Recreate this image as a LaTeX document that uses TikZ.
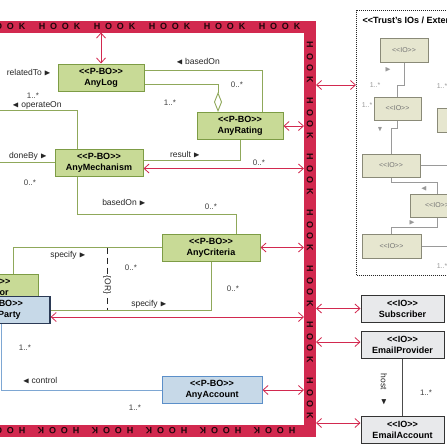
\documentclass[tikz,border=0pt]{standalone}
\usepackage{amssymb}
\usepackage{fontspec}
\setmainfont{Liberation Sans}
\usepackage{tikz}
\usetikzlibrary{arrows.meta}

\definecolor{hookred}{HTML}{D2294F}
\definecolor{pbofill}{HTML}{C8DA96}
\definecolor{pboline}{HTML}{7D9C45}
\definecolor{assocline}{HTML}{8FA85A}
\definecolor{partyfill}{HTML}{C7D9E8}
\definecolor{partyline}{HTML}{2B3A55}
\definecolor{accline}{HTML}{5B8FC9}
\definecolor{ctrlline}{HTML}{7EA7D3}
\definecolor{iofill}{HTML}{E6E6CF}
\definecolor{ioline}{HTML}{8A8A78}
\definecolor{iogray}{HTML}{9A9A9A}
\definecolor{extfill}{HTML}{E8E9EB}

\newcommand{\stereo}[1]{\hbox{<}\hbox{<}#1\hbox{>}\hbox{>}}
\newcommand{\rtri}{$\blacktriangleright$}
\newcommand{\ltri}{$\blacktriangleleft$}
\newcommand{\dtri}{$\blacktriangledown$}

\begin{document}
\begin{tikzpicture}[x=1pt, y=-1pt,
    pbo/.style={draw=pboline, fill=pbofill, line width=1pt, align=center,
      font=\fontsize{9}{11}\selectfont\bfseries, minimum height=27pt, inner sep=0pt},
    party/.style={pbo, draw=partyline, fill=partyfill, line width=1.3pt},
    account/.style={pbo, draw=accline, fill=partyfill},
    ioin/.style={draw=ioline, fill=iofill, line width=1pt, text=black!55,
      font=\fontsize{7}{8}\selectfont, minimum height=24pt, inner sep=0pt},
    ioext/.style={draw=black!80, fill=extfill, line width=1pt, align=center,
      font=\fontsize{9}{11}\selectfont\bfseries, minimum width=83pt,
      minimum height=27pt, inner sep=0pt},
    assoc/.style={draw=assocline, line width=0.9pt},
    ctrl/.style={draw=ctrlline, line width=0.9pt},
    ioconn/.style={draw=iogray, line width=0.9pt},
    hookarr/.style={draw=hookred, line width=0.8pt, <->,
      >={Straight Barb[length=5pt, width=9pt]}},
    lbl/.style={font=\fontsize{8.5}{9}\selectfont, text=black!85, inner sep=0pt},
    mult/.style={font=\fontsize{8}{9}\selectfont, text=black!75, inner sep=0pt},
    iolbl/.style={font=\fontsize{7}{8}\selectfont, text=black!40, inner sep=0pt},
    hookltr/.style={font=\fontsize{9}{9}\selectfont\bfseries,
      text=black!85!hookred, inner sep=0pt},
    dotbox/.style={draw=black!85, line width=1.3pt, dash pattern=on 1pt off 1pt},
    orline/.style={draw=black!85, line width=0.9pt, dash pattern=on 6pt off 4pt}]

    \clip (0, 0) rectangle (447, 447);

    % hook frame
    \draw [line width=12pt, hookred] (-20, 26.5) -- (310, 26.5)
      -- (310, 431) -- (-20, 431);
    \coordinate (bandtop) at (0, 32.5);
    \coordinate (bandin) at (304, 0);
    \coordinate (bandout) at (316, 0);

    % P-BO classes
    \node[pbo, minimum width=86pt](anylog) at (101, 77.5){\stereo{P-BO}\\AnyLog};
    \node[pbo, minimum width=86pt](anyrating) at (240, 126){\stereo{P-BO}\\AnyRating};
    \node[pbo, minimum width=88pt](anymech) at (99, 162.5){\stereo{P-BO}\\AnyMechanism};
    \node[pbo, minimum width=98pt](anycrit) at (211, 247.5){\stereo{P-BO}\\AnyCriteria};
    \node[pbo, minimum width=99pt](actor) at (-11.5, 287.5){\stereo{P-BO}\\AnyActor};
    \node[party, minimum width=98pt](anyparty) at (1, 310){\stereo{P-BO}\\AnyParty};
    \node[account, minimum width=100pt](anyaccount) at (212, 390){\stereo{P-BO}\\AnyAccount};

    % AnyLog
    \node[lbl, anchor=east](relto) at (51, 73){relatedTo \rtri};
    \draw [assoc] ([yshift=7.5pt]anylog.east) -| ([xshift=22pt]anyrating.north);
    \node[lbl](basedon1) at (198, 62){\ltri\ basedOn};
    \node[mult](m-rating) at (237, 85){0..*};
    \draw [assoc, -{Diamond[open, length=20pt, width=8pt]}]
      ([yshift=-6.5pt]anylog.east) -| ([xshift=-22pt]anyrating.north);
    \node[mult](m-log) at (170, 103){1..*};

    % AnyMechanism
    \coordinate (opfree) at (-5, 110);
    \draw [assoc] ([xshift=-22pt]anymech.north) |- (opfree);
    \node[mult](m-op) at (33, 95.5){1..*};
    \node[lbl](operateon) at (37, 105){\ltri\ operateOn};
    \coordinate (donefree) at (-5, 162.5);
    \draw [assoc] (donefree) -- (anymech.west);
    \node[lbl](doneby) at (28, 156){doneBy \rtri};
    \node[mult](m-done) at (30, 183){0..*};
    \draw [assoc] (anyrating.south) |- ([yshift=2pt]anymech.east);
    \node[lbl](result) at (185, 154.5){result \rtri};
    \draw [assoc] ([xshift=-22pt]anymech.south) -- ++(0, 38)
      -| ([xshift=25pt]anycrit.north);
    \node[lbl](basedon2) at (124, 202.5){basedOn \rtri};
    \node[mult](m-crit) at (211, 207){0..*};

    % AnyCriteria
    \draw [assoc] (anycrit.west) -| ([xshift=24.5pt]actor.north);
    \node[lbl](specify1) at (68, 255){specify \rtri};
    \node[mult](m-spec1) at (131, 268){0..*};
    \draw [assoc] (anycrit.south) |- (anyparty.east);
    \node[lbl](specify2) at (149, 304){specify \rtri};
    \node[mult](m-spec2) at (233, 289){0..*};
    \draw [orline] (anycrit.west -| 107,0) -- (anyparty.east -| 107,0)
      node[lbl, pos=0.6, fill=white, rotate=-90, inner sep=1pt](orlbl){\{OR\}};

    % AnyAccount
    \draw [ctrl] (anyparty.south) |- (anyaccount.west);
    \node[mult](m-party) at (25, 348){1..*};
    \node[lbl](control) at (40, 381){\ltri\ control};
    \node[mult](m-acc) at (135, 408){1..*};

    % hooks into the frame
    \draw [hookarr] (anylog.north) -- (anylog.north |- bandtop);
    \draw [hookarr] (anyrating.east) -- (anyrating.east -| bandin);
    \coordinate (mechout) at ([yshift=-6pt]anymech.east);
    \draw [hookarr] (mechout) -- (mechout -| bandin);
    \node[mult](m-mech) at (259, 163){0..*};
    \draw [hookarr] (anycrit.east) -- (anycrit.east -| bandin);
    \coordinate (partyout) at ([yshift=-7pt]anyparty.east);
    \draw [hookarr] (partyout) -- (partyout -| bandin);
    \draw [hookarr] (anyaccount.east) -- (anyaccount.east -| bandin);

    % trust's IOs
    \node[dotbox, anchor=north west, minimum width=114pt, minimum height=265pt](ioframe)
      at (356, 10){};
    \node[anchor=west, font=\fontsize{9}{10}\selectfont\bfseries](iotitle)
      at (359, 20){\stereo{Trust's IOs / External IOs}};
    \node[ioin, minimum width=48pt](io1) at (404, 50){\stereo{IO}};
    \node[ioin, minimum width=47pt, minimum height=23pt](io2) at (397.5, 108.5){\stereo{IO}};
    \node[ioin, minimum width=50pt](io3) at (462, 120){\stereo{IO}};
    \node[ioin, minimum width=58pt, minimum height=23pt](io4) at (391, 165.5){\stereo{IO}};
    \node[ioin, minimum width=54pt, minimum height=23pt](io5) at (437, 205.5){\stereo{IO}};
    \node[ioin, minimum width=59pt](io6) at (391.5, 246){\stereo{IO}};
    \draw [ioconn] (io1.south) -- ++(0, 23) -| (io2.north);
    \node[iolbl](t1) at (388, 70){\rtri};
    \node[iolbl](m-io1) at (375, 85){1..*};
    \node[iolbl](m-io1b) at (442, 86){1..*};
    \node[iolbl](m-io2) at (367, 105){1..*};
    \draw [ioconn] (io2.south) -- ++(0, 8) -| (io4.north);
    \node[iolbl](t2) at (380, 130){\dtri};
    \coordinate (io4free) at (460, 165.5);
    \draw [ioconn] (io4.east) -- (io4free);
    \draw [ioconn] (io4.south) -- ++(0, 5) -| (io5.north);
    \node[iolbl](t3) at (424, 189){\ltri};
    \draw [ioconn] (io5.south) -- ++(0, 10) -| (io6.north);
    \node[iolbl](t4) at (412, 223){\rtri};
    \coordinate (io6free) at (460, 246);
    \draw [ioconn] (io6.east) -- (io6free);
    \node[iolbl](m-io6) at (442, 266){1..*};
    \coordinate (frameport) at (356, 85);
    \draw [hookarr] (frameport -| bandout) -- (frameport);

    % external IOs
    \node[ioext](subscriber) at (402.5, 308.5){\stereo{IO}\\Subscriber};
    \node[ioext](emailprov) at (402.5, 345){\stereo{IO}\\EmailProvider};
    \node[ioext](emailacc) at (402.5, 430){\stereo{IO}\\EmailAccount};
    \draw [hookarr] (subscriber.west -| bandout) -- (subscriber.west);
    \coordinate (provin) at ([yshift=3pt]emailprov.west);
    \draw [hookarr] (provin -| bandout) -- (provin);
    \coordinate (accin) at ([yshift=7pt]emailacc.west);
    \draw [hookarr] (accin -| bandout) -- (accin);
    \draw [draw=black!70, line width=0.9pt] (emailprov.south) -- (emailacc.north);
    \node[lbl, rotate=-90](host) at (384, 382){host};
    \node[lbl](t5) at (384, 402){\dtri};
    \node[mult](m-host) at (426, 393){1..*};

    % HOOK lettering
    \foreach \h in {-13, 42, ..., 262}
      \foreach \c [count=\i from 0] in {H, O, O, K}
        \node[hookltr](htop\h\i) at (\h + 11.7*\i, 26.5){\c};
    \foreach \v in {45, 101, ..., 381}
      \foreach \c [count=\i from 0] in {H, O, O, K}
        \node[hookltr, rotate=-90](hright\v\i) at (310, \v + 11.7*\i){\c};
    \foreach \h in {292, 238, ..., -32}
      \foreach \c [count=\i from 0] in {H, O, O, K}
        \node[hookltr, rotate=180](hbot\h\i) at (\h - 11.7*\i, 431){\c};
  \end{tikzpicture}
\end{document}
